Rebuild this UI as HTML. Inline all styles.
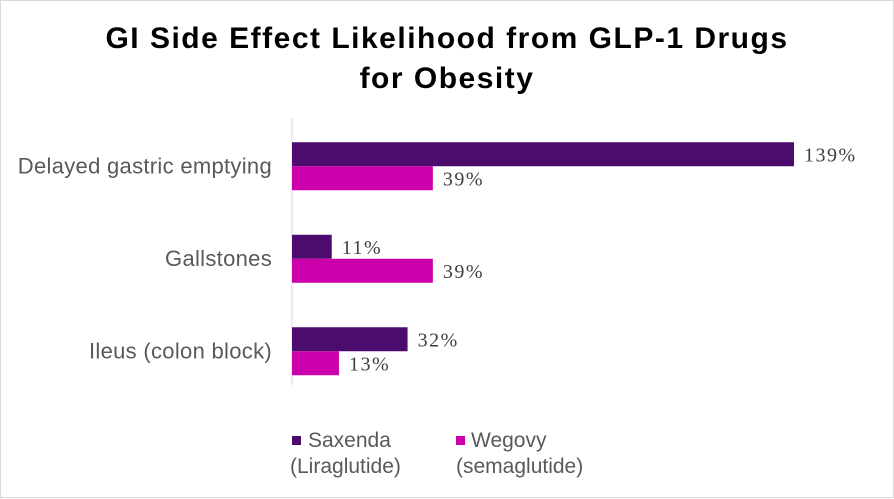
<!DOCTYPE html>
<html><head><meta charset="utf-8"><style>
html,body{margin:0;padding:0;background:#fff;}
svg{display:block;}
</style></head><body>
<svg width="894" height="499" xmlns="http://www.w3.org/2000/svg">
<rect x="0.5" y="0.5" width="893" height="497" fill="#fff" stroke="#d9d9d9"/>
<text x="447" y="48" text-anchor="middle" font-family="Liberation Sans, sans-serif" font-weight="bold" font-size="30" letter-spacing="1.5" fill="#000">GI Side Effect Likelihood from GLP-1 Drugs</text>
<text x="447" y="88" text-anchor="middle" font-family="Liberation Sans, sans-serif" font-weight="bold" font-size="30" letter-spacing="1.5" fill="#000">for Obesity</text>
<line x1="292" y1="118" x2="292" y2="385" stroke="#d9d9d9" stroke-width="1"/>
<g id="bars"></g>
<rect x="292" y="436" width="9" height="9" fill="#4B0C6E"/>
<text x="308" y="447" font-family="Liberation Sans, sans-serif" font-size="21" fill="#595959">Saxenda<tspan x="290" dy="26">(Liraglutide)</tspan></text>
<rect x="456" y="436" width="9" height="9" fill="#CC00AA"/>
<text x="471" y="447" font-family="Liberation Sans, sans-serif" font-size="21" fill="#595959">Wegovy<tspan x="456" dy="26">(semaglutide)</tspan></text>
</svg>
<script>
const categories=["Delayed gastric emptying","Gallstones","Ileus (colon block)"];
const saxenda=[139,11,32];
const wegovy=[39,39,13];
const x0=292, pxPer=(794-292)/139;
const bandTop=120, bandH=92.5, barH=24;
const xs=v=>x0+v*pxPer;
const g=document.getElementById('bars');
const NS='http://www.w3.org/2000/svg';
categories.forEach((c,i)=>{
  const cy=bandTop+bandH*i+bandH/2;
  const t=document.createElementNS(NS,'text');
  t.setAttribute('x',272);t.setAttribute('y',cy+7);t.setAttribute('text-anchor','end');
  t.setAttribute('font-family','Liberation Sans, sans-serif');t.setAttribute('font-size','22');t.setAttribute('letter-spacing','0.3');t.setAttribute('fill','#595959');
  t.textContent=c;
  
  
  g.appendChild(t);
  [[saxenda[i],'#4B0C6E',cy-barH],[wegovy[i],'#CC00AA',cy]].forEach(([v,col,y],k)=>{
    const r=document.createElementNS(NS,'rect');
    r.setAttribute('x',x0);r.setAttribute('y',y);r.setAttribute('width',xs(v)-x0);r.setAttribute('height',barH);r.setAttribute('fill',col);
    
    
    g.appendChild(r);
    const l=document.createElementNS(NS,'text');
    l.setAttribute('x',xs(v)+10);l.setAttribute('y',y+barH/2+7);
    l.setAttribute('font-family','Liberation Serif, serif');l.setAttribute('font-size','20');l.setAttribute('letter-spacing','1.5');l.setAttribute('fill','#404040');
    l.textContent=v+'%';
    
    
    g.appendChild(l);
  });
});
</script>
</body></html>
